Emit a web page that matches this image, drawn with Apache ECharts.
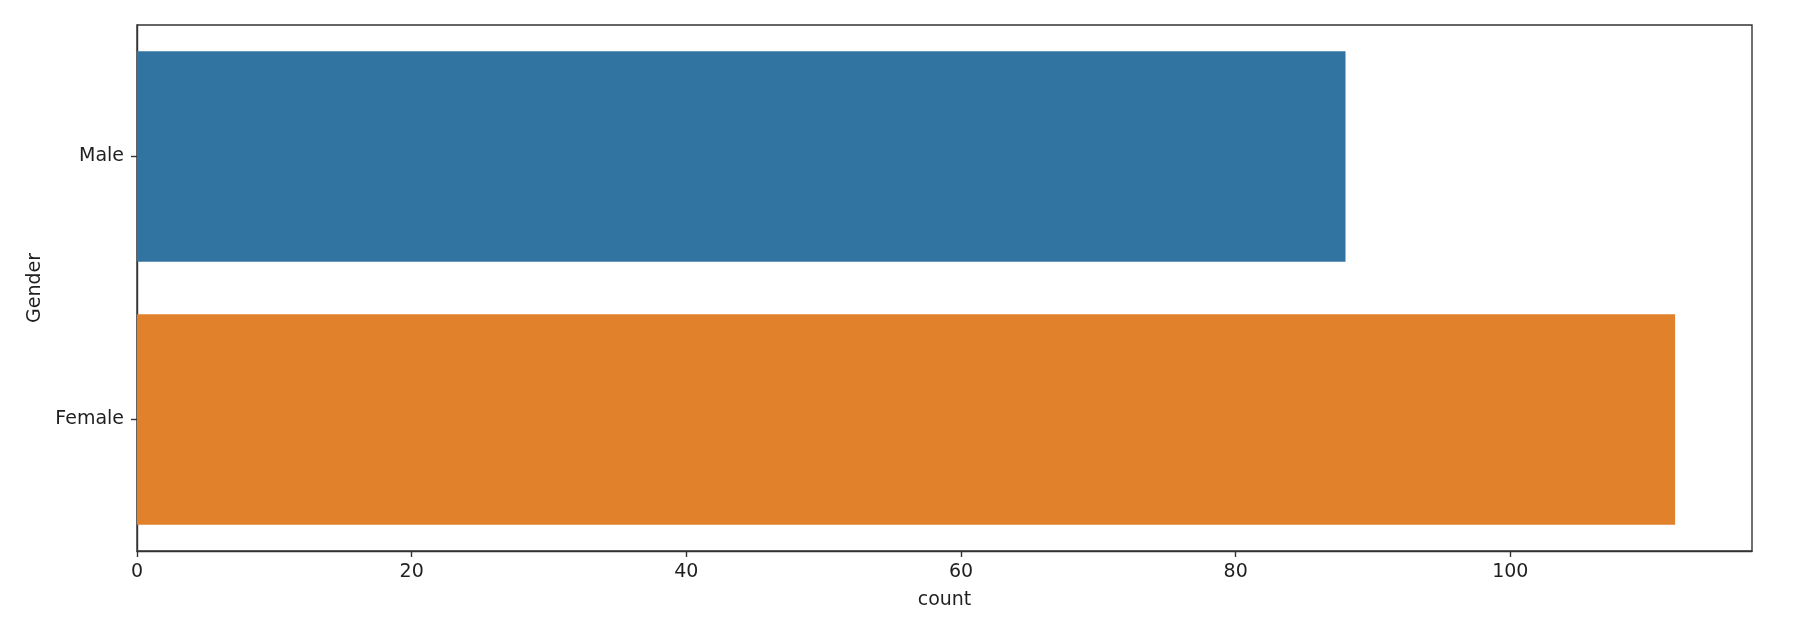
<!DOCTYPE html>
<html>
<head>
<meta charset="utf-8">
<script src="https://cdn.jsdelivr.net/npm/echarts@6/dist/echarts.min.js"></script>
<style>html,body{margin:0;padding:0;background:#fff}#c{width:1799px;height:634px}</style>
</head>
<body>
<div id="c"></div>
<script>
const categories = ["Male", "Female"];
const counts = [88, 112];
const barColors = ["#3274a1", "#e1812c"];
const xTicks = [0, 20, 40, 60, 80, 100];

const chart = echarts.init(document.getElementById('c'), null, {renderer: 'canvas'});
const font = "DejaVu Sans";
const txt = '#1f1f1f';
chart.setOption({
  animation: false,
  backgroundColor: '#fff',
  grid: {left: 137, right: 47, top: 25, bottom: 83, show: true, borderColor: '#333', borderWidth: 1.4, backgroundColor: 'transparent'},
  xAxis: {
    type: 'value', min: 0, max: 117.6, interval: 20,
    name: 'count', nameLocation: 'middle', nameGap: 40,
    nameTextStyle: {fontFamily: font, fontSize: 19, color: txt},
    axisLine: {show: true, lineStyle: {color: '#333', width: 1.4}},
    axisTick: {show: true, length: 6, inside: false, lineStyle: {color: '#333', width: 1.4}},
    axisLabel: {showMaxLabel: false, margin: 12, fontFamily: font, fontSize: 19, color: txt,
      formatter: v => xTicks.includes(v) ? String(v) : ''},
    splitLine: {show: false}
  },
  yAxis: {
    type: 'category', data: categories, inverse: true,
    name: 'Gender', nameLocation: 'middle', nameGap: 92, nameRotate: 90,
    nameTextStyle: {fontFamily: font, fontSize: 19, color: txt},
    axisLine: {show: true, lineStyle: {color: '#333', width: 1.4}},
    axisTick: {show: true, alignWithLabel: true, length: 6, lineStyle: {color: '#333', width: 1.4}},
    axisLabel: {margin: 13, fontFamily: font, fontSize: 19, color: txt},
    splitLine: {show: false}
  },
  series: [{
    type: 'bar',
    barCategoryGap: '20%',
    data: counts.map((v, i) => ({value: v, itemStyle: {color: barColors[i]}}))
  }]
});
</script>
</body>
</html>
